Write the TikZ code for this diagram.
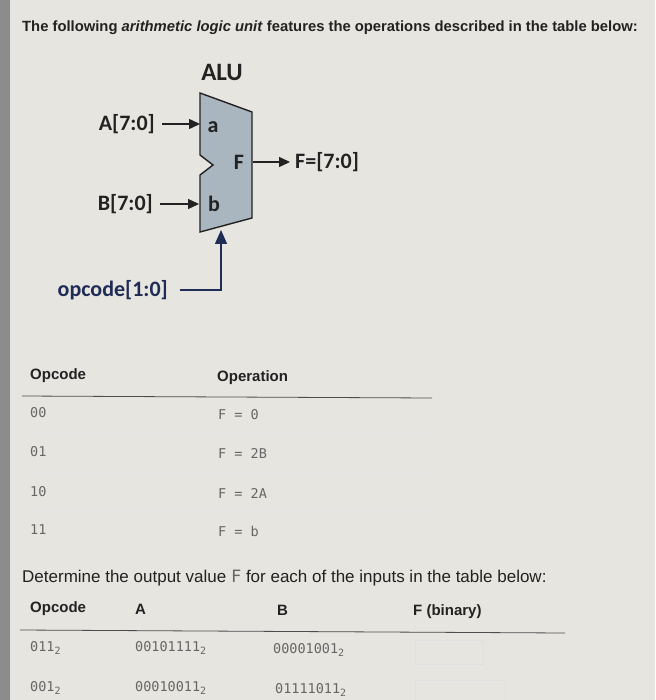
\documentclass[tikz,border=0pt]{standalone}
\usepackage{fontspec}
\setmainfont{Liberation Sans}
\newfontfamily\calib{Carlito}
\newfontfamily\monof{DejaVu Sans Mono}
\usetikzlibrary{arrows.meta}
\definecolor{bg}{HTML}{E7E5E0}
\definecolor{ink}{HTML}{222222}
\definecolor{navy}{HTML}{1F2C55}
\definecolor{alufill}{HTML}{A9B6BF}
\definecolor{graytxt}{HTML}{666666}
\newcommand{\bsub}{\raisebox{-3.5pt}{\fontsize{10}{12}\selectfont 2}}
\begin{document}
\begin{tikzpicture}[x=1pt,y=-1pt,
  lbl/.style={font=\calib\bfseries\fontsize{22}{24}\selectfont,text=ink,inner sep=0},
  hdr/.style={font=\bfseries\fontsize{15}{17}\selectfont,text=ink,anchor=west,inner sep=0},
  mono/.style={font=\monof\fontsize{13.5}{15}\selectfont,text=graytxt,anchor=west,inner sep=0},
  sig/.style={-{Triangle[length=11pt,width=10pt]},line width=1.4pt,draw=ink},
  ansbox/.style={draw=black!12,line width=0.6pt}]
\useasboundingbox (0,0) rectangle (655,700);
\fill[bg] (0,0) rectangle (655,700);
\fill[black!45] (0,0) rectangle (10,700);
\node[anchor=west,inner sep=0,text=ink,font=\bfseries\fontsize{14.8}{16}\selectfont] (title) at (22,28)
  {The following \textit{arithmetic logic unit} features the operations described in the table below:};
\node[lbl,font=\calib\bfseries\fontsize{25}{27}\selectfont] (alulbl) at (222,72) {ALU};
% ALU shape
\draw[fill=alufill,draw=ink,line width=1.4pt] (200,93) -- (252,112) -- (252,218) -- (200,232) -- (200,175) -- (213,165) -- (200,155) -- cycle;
\coordinate (ina) at (200,124);
\coordinate (inb) at (199,204);
\coordinate (outf) at (253,162);
\coordinate (inop) at (221,230);
\node[lbl,anchor=east] (A) at (155,124) {A[7:0]};
\node[lbl,anchor=east] (B) at (153,204) {B[7:0]};
\node[lbl] (a) at (213,127) {a};
\node[lbl] (b) at (214,204) {b};
\node[lbl] (F) at (239,162) {F};
\node[lbl,anchor=west] (Fout) at (295,162) {F=[7:0]};
\node[lbl,anchor=east,text=navy] (op) at (168,290) {opcode[1:0]};
\draw[sig] (A.east)++(7,0) -- (ina);
\draw[sig] (B.east)++(7,0) -- (inb);
\draw[sig,shorten >=5pt] (outf) -- (Fout.west);
\draw[-{Triangle[length=14pt,width=12pt]},line width=1.4pt,draw=navy] (op.east)++(12,0) -| (inop);
% table 1
\node[hdr] (h1) at (30,376) {Opcode};
\node[hdr] (h2) at (217,378) {Operation};
\draw[black!70,line width=0.8pt] (22,396) -- (432,398);
\foreach \y in {432,472,511} \draw[black!10,line width=0.6pt] (22,\y) -- (432,\y);
\node[mono] (o0) at (30,413) {00};
\node[mono] (o1) at (30,452) {01};
\node[mono] (o2) at (30,492) {10};
\node[mono] (o3) at (30,530) {11};
\node[mono] (p0) at (218,415) {F = 0};
\node[mono] (p1) at (218,453) {F = 2B};
\node[mono] (p2) at (218,493) {F = 2A};
\node[mono] (p3) at (218,531) {F = b};
% question
\node[anchor=west,inner sep=0,text=ink,font=\fontsize{17}{19}\selectfont] (q) at (22,578)
  {Determine the output value {\monof\color{graytxt}F} for each of the inputs in the table below:};
\node[hdr] (g1) at (30,609) {Opcode};
\node[hdr] (g2) at (135,609) {A};
\node[hdr] (g3) at (277,610) {B};
\node[hdr] (g4) at (413,612) {F (binary)};
\draw[black!70,line width=0.8pt] (20,630) -- (565,633);
\node[mono] (r1a) at (30,648) {011\bsub};
\node[mono] (r1b) at (135,648) {00101111\bsub};
\node[mono] (r1c) at (273,650) {00001001\bsub};
\draw[ansbox] (415,640) rectangle (483,664);
\node[mono] (r2a) at (30,688) {001\bsub};
\node[mono] (r2b) at (135,688) {00010011\bsub};
\node[mono] (r2c) at (275,690) {01111011\bsub};
\draw[ansbox] (415,680) rectangle (505,702);
\end{tikzpicture}
\end{document}
